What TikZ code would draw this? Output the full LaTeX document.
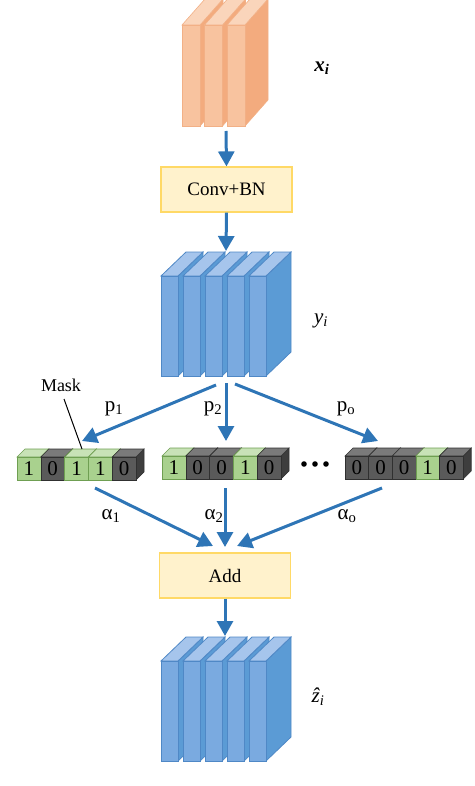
\documentclass[tikz,border=0pt]{standalone}
\usepackage{fontspec}
\setmainfont{Liberation Serif}
\usetikzlibrary{arrows.meta}
\definecolor{arrowblue}{HTML}{2E75B6}
\definecolor{boxfill}{HTML}{FFF2CC}
\definecolor{boxedge}{HTML}{FFD966}
\definecolor{orF}{HTML}{F8C39F}
\definecolor{orT}{HTML}{FAD5BB}
\definecolor{orS}{HTML}{F3AB7E}
\definecolor{orE}{HTML}{F2B086}
\definecolor{blF}{HTML}{7AAAE0}
\definecolor{blT}{HTML}{A6C5EC}
\definecolor{blS}{HTML}{5B9BD5}
\definecolor{blE}{HTML}{4F88C6}
\definecolor{gF}{HTML}{A9D18E}
\definecolor{gT}{HTML}{C8E2B7}
\definecolor{gS}{HTML}{8CBD6C}
\definecolor{gE}{HTML}{6F9F52}
\definecolor{kF}{HTML}{5A5A5A}
\definecolor{kT}{HTML}{7A7A7A}
\definecolor{kS}{HTML}{3E3E3E}
\definecolor{kE}{HTML}{303030}
\tikzset{
  flow/.style={draw=arrowblue, line width=3pt, -{Triangle[length=15pt,width=16pt]}},
  opbox/.style={draw=boxedge, fill=boxfill, line width=1.2pt, minimum width=131pt,
    minimum height=45pt, inner sep=0pt, font=\fontsize{19}{22}\selectfont},
  digit/.style={inner sep=0pt, font=\fontsize{21}{23}\selectfont},
  lab/.style={inner sep=0pt, font=\fontsize{18}{20}\selectfont},
  plab/.style={inner sep=0pt, font=\fontsize{21}{23}\selectfont},
  varlab/.style={inner sep=0pt, font=\fontsize{21}{23}\selectfont\itshape},
}
% slab: x0 y0 w h dx dy, colours from scope styles
\newcommand{\slabpiece}[6]{%
  \filldraw[slabside] (#1+#3,#2) -- ++(#5,-#6) -- ++(0,#4) -- ++(-#5,#6) -- cycle;
  \filldraw[slabtop] (#1,#2) -- ++(#5,-#6) -- ++(#3,0) -- ++(-#5,#6) -- cycle;
  \filldraw[slabfront] (#1,#2) rectangle ++(#3,#4);
}
% cube: x0 y0 digit name
\newcommand{\maskcube}[4]{%
  \ifnum#3=1 \def\cF{gF}\def\cT{gT}\def\cS{gS}\def\cE{gE}%
  \else \def\cF{kF}\def\cT{kT}\def\cS{kS}\def\cE{kE}\fi
  \filldraw[fill=\cS, draw=\cE, line width=0.6pt] (#1+23.8,#2) -- ++(8,-8) -- ++(0,23) -- ++(-8,8) -- cycle;
  \filldraw[fill=\cT, draw=\cE, line width=0.6pt] (#1,#2) -- ++(8,-8) -- ++(23.8,0) -- ++(-8,8) -- cycle;
  \filldraw[fill=\cF, draw=\cE, line width=0.6pt] (#1,#2) rectangle ++(23.8,23);
  \node[digit] (#4) at (#1+11.9,#2+11.8) {#3};
}
\begin{document}
\begin{tikzpicture}[x=1pt,y=-1pt]
\useasboundingbox (0,0) rectangle (474,786);
\begin{scope}
\clip (0,0) rectangle (474,786);
% x_i stack (orange)
\begin{scope}[slabfront/.style={fill=orF,draw=orE,line width=0.6pt},
  slabtop/.style={fill=orT,draw=orE,line width=0.6pt},
  slabside/.style={fill=orS,draw=orE,line width=0.6pt}]
\foreach \k in {0,1,2} {\slabpiece{182+\k*22.5}{25}{18}{101}{23}{26}}
\end{scope}
% y_i stack and z_i stack (blue)
\begin{scope}[slabfront/.style={fill=blF,draw=blE,line width=0.8pt},
  slabtop/.style={fill=blT,draw=blE,line width=0.8pt},
  slabside/.style={fill=blS,draw=blE,line width=0.8pt}]
\foreach \k in {0,...,4} {\slabpiece{161+\k*22}{276}{17}{100}{25}{24}}
\foreach \k in {0,...,4} {\slabpiece{161+\k*22}{661}{17}{100}{25}{24}}
\end{scope}
% mask rows
\foreach \d [count=\k from 0] in {1,0,1,1,0} {\maskcube{17+\k*23.8}{457}{\d}{ma\k}}
\foreach \d [count=\k from 0] in {1,0,0,1,0} {\maskcube{162+\k*23.8}{456}{\d}{mb\k}}
\foreach \d [count=\k from 0] in {0,0,0,1,0} {\maskcube{345+\k*23.6}{456}{\d}{mc\k}}
\end{scope}
% dots
\foreach \i in {0,1,2} {\fill (304+\i*11,464) circle (2.8pt);}
% labels
\node[varlab] (xlab) at (322,68) {\bfseries x\textsubscript{i}};
\node[varlab] (ylab) at (321,321) {y\textsubscript{i}};
\node[varlab] (zlab) at (318,697) {\^{z}\textsubscript{i}};
% boxes
\node[opbox] (conv) at (226.5,189.5) {Conv+BN};
\node[opbox] (add) at (225,575.5) {Add};
% coordinates
\coordinate (xbot) at (226,131);
\coordinate (ytop) at (226,251);
\coordinate (ztop) at (225,636);
\coordinate (yl) at (216,385);
\coordinate (ym) at (226,383);
\coordinate (yr) at (235,384);
\coordinate (m1) at (82,441);
\coordinate (m2) at (226,441);
\coordinate (m3) at (378,441);
\coordinate (r1) at (95,488);
\coordinate (r2) at (225,488);
\coordinate (r3) at (382,488);
\coordinate (a1) at (213,546);
\coordinate (a2) at (225,547);
\coordinate (a3) at (237,546);
% arrows
\draw[flow] (xbot) -- (conv.north);
\draw[flow] (conv.south) -- (ytop);
\draw[flow] (yl) -- (m1);
\draw[flow] (ym) -- (m2);
\draw[flow] (yr) -- (m3);
\draw[flow] (r1) -- (a1);
\draw[flow] (r2) -- (a2);
\draw[flow] (r3) -- (a3);
\draw[flow] (add.south) -- (ztop);
% p and alpha labels
\node[plab] (p1) at (114,409) {p\textsubscript{1}};
\node[plab] (p2) at (213,409) {p\textsubscript{2}};
\node[plab] (p3) at (346,409) {p\textsubscript{o}};
\node[plab] (al1) at (111,516) {α\textsubscript{1}};
\node[plab] (al2) at (214,516) {α\textsubscript{2}};
\node[plab] (al3) at (347,516) {α\textsubscript{o}};
% mask label
\node[lab] (masklab) at (61,385) {Mask};
\coordinate (maskfrom) at (64,399);
\coordinate (maskpt) at (82,449);
\draw[line width=1pt] (maskfrom) -- (maskpt);
\end{tikzpicture}
\end{document}
